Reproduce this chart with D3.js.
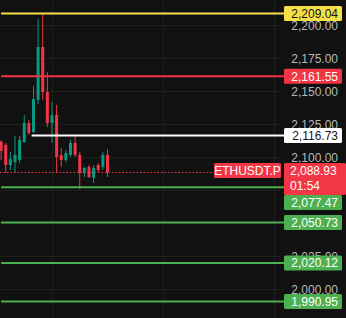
<!DOCTYPE html>
<html>
<head>
<meta charset="utf-8">
<script src="https://cdn.jsdelivr.net/npm/d3@7"></script>
<style>
  html, body { margin: 0; padding: 0; background: #111111; }
  svg { display: block; }
</style>
</head>
<body>
<div id="chart"></div>
<script>
// 5 minute candles, first one at 11:05
const candleOpen  = [2112, 2109.5, 2094.3, 2096.6, 2098.1, 2111.7, 2126.1, 2119.3, 2143.6, 2183.7, 2149.6, 2126.1, 2132.2, 2101.9, 2098.1, 2101.9, 2111, 2101.9, 2088.3, 2092.8, 2084.5, 2094.3, 2092.8, 2101.9];
const candleHigh  = [2113, 2111, 2104.2, 2116.3, 2116.3, 2132.2, 2128.4, 2154.2, 2204.9, 2209.04, 2164.8, 2142, 2139.8, 2107.2, 2105.7, 2113.3, 2117, 2104.2, 2092.8, 2094.3, 2094.3, 2095.8, 2104.2, 2106.4];
const candleLow   = [2098, 2088.3, 2090.5, 2089, 2095.8, 2111, 2117, 2118.6, 2140.5, 2143.6, 2123.1, 2111, 2088.3, 2092.8, 2096.6, 2100.4, 2100.4, 2076, 2085.2, 2084.5, 2080.7, 2089, 2090.5, 2085.2];
const candleClose = [2105, 2094.3, 2098.9, 2101.9, 2113.3, 2126.1, 2118.6, 2144.3, 2183.7, 2149.6, 2126.1, 2132.2, 2100.4, 2098.1, 2103.4, 2111, 2101.9, 2088.3, 2092, 2085.2, 2092, 2090.5, 2101.9, 2088.93];

const priceTicks = [2200, 2175, 2150, 2125, 2100, 2075, 2050, 2025, 2000, 1975];

// horizontal levels drawn on the chart
const levelPrices = [2209.04, 2161.55, 2116.73, 2077.47, 2050.73, 2020.12, 1990.95];
const levelColors = ["#f5e04a", "#f23645", "#ffffff", "#4caf50", "#4caf50", "#4caf50", "#4caf50"];
const levelText   = ["#131313", "#ffffff", "#131313", "#ffffff", "#ffffff", "#ffffff", "#ffffff"];
const levelStart  = [0, 0, 6.6, 0, 0, 0, 0]; // candle index where the ray begins

const symbol = "ETHUSDT.P";
const countdown = "01:54";

const width = 346, height = 318;
const axisLeft = 276;
const barMs = 5 * 60 * 1000;
const t0 = new Date(2024, 0, 1, 11, 5);
const times = candleOpen.map((d, i) => new Date(+t0 + i * barMs));

const x = d3.scaleTime()
  .domain([new Date(+t0 - 0.24 * barMs), new Date(+t0 + 74.57 * barMs)])
  .range([0, width]);
const y = d3.scaleLinear().domain([1978.4, 2219.3]).range([height, 0]);
const fmt = d3.format(",.2f");

const svg = d3.select("#chart").append("svg")
  .attr("width", width)
  .attr("height", height)
  .style("font-family", "'Liberation Sans', Arial, sans-serif")
  .style("font-size", "12px");

svg.append("rect").attr("width", width).attr("height", height).attr("fill", "#111111");

// grid
svg.append("g").selectAll("line")
  .data(x.ticks(d3.timeHour.every(2)))
  .join("line")
  .attr("x1", d => Math.round(x(d)) + 0.5).attr("x2", d => Math.round(x(d)) + 0.5)
  .attr("y1", 0).attr("y2", height)
  .attr("stroke", "#1f1f1f");

svg.append("g").selectAll("line")
  .data(priceTicks)
  .join("line")
  .attr("x1", 0).attr("x2", axisLeft + 4)
  .attr("y1", d => Math.round(y(d)) + 0.5).attr("y2", d => Math.round(y(d)) + 0.5)
  .attr("stroke", "#1f1f1f");

// price axis tick labels
svg.append("g").selectAll("text")
  .data(priceTicks)
  .join("text")
  .attr("x", 338)
  .attr("y", d => y(d))
  .attr("dy", "0.35em")
  .attr("text-anchor", "end")
  .attr("fill", "#b8b8b8")
  .text(d => fmt(d));

// candles
const candles = svg.append("g").selectAll("g")
  .data(times)
  .join("g")
  .attr("fill", (d, i) => candleClose[i] >= candleOpen[i] ? "#089981" : "#f23645")
  .attr("stroke", (d, i) => candleClose[i] >= candleOpen[i] ? "#089981" : "#f23645");

candles.append("line")
  .attr("x1", d => x(d)).attr("x2", d => x(d))
  .attr("y1", (d, i) => y(candleHigh[i]))
  .attr("y2", (d, i) => y(candleLow[i]))
  .attr("stroke-width", 1);

candles.append("rect")
  .attr("x", d => x(d) - 1.5)
  .attr("width", 3)
  .attr("y", (d, i) => y(Math.max(candleOpen[i], candleClose[i])))
  .attr("height", (d, i) => Math.max(1, Math.abs(y(candleOpen[i]) - y(candleClose[i]))))
  .attr("stroke", "none");

// level lines
svg.append("g").selectAll("line")
  .data(levelPrices)
  .join("line")
  .attr("x1", (d, i) => x(new Date(+t0 + levelStart[i] * barMs)))
  .attr("x2", 284)
  .attr("y1", d => y(d)).attr("y2", d => y(d))
  .attr("stroke", (d, i) => levelColors[i])
  .attr("stroke-width", 2);

// current price line
const last = candleClose[candleClose.length - 1];
const lastY = y(last);
svg.append("line")
  .attr("x1", 0).attr("x2", 214)
  .attr("y1", Math.round(lastY) + 0.5).attr("y2", Math.round(lastY) + 0.5)
  .attr("stroke", "#f23645")
  .attr("stroke-dasharray", "1.5,2");

// level labels, pushed off the current price box when they collide
const curTop = lastY - 9, curBottom = lastY + 23;
const labelH = 15;
const labels = levelPrices.map((p, i) => {
  let top = y(p) - labelH / 2;
  if (top < curBottom && top + labelH > curTop) top = curBottom;
  return { p, i, top };
});

const lab = svg.append("g").selectAll("g")
  .data(labels)
  .join("g");
lab.append("rect")
  .attr("x", 284).attr("width", 58)
  .attr("y", d => d.top).attr("height", labelH)
  .attr("rx", 1.5)
  .attr("fill", d => levelColors[d.i]);
lab.append("text")
  .attr("x", 338)
  .attr("y", d => d.top + labelH / 2)
  .attr("dy", "0.36em")
  .attr("text-anchor", "end")
  .attr("fill", d => levelText[d.i])
  .text(d => fmt(d.p));

// symbol tag and current price box
svg.append("rect")
  .attr("x", 214).attr("width", 67)
  .attr("y", curTop).attr("height", labelH)
  .attr("rx", 1.5)
  .attr("fill", "#f23645");
svg.append("text")
  .attr("x", 247.5)
  .attr("y", curTop + labelH / 2)
  .attr("dy", "0.36em")
  .attr("text-anchor", "middle")
  .attr("fill", "#ffffff")
  .text(symbol);

svg.append("rect")
  .attr("x", 284).attr("width", 62)
  .attr("y", curTop).attr("height", curBottom - curTop)
  .attr("rx", 1.5)
  .attr("fill", "#f23645");
svg.append("text")
  .attr("x", 290)
  .attr("y", curTop + 8)
  .attr("dy", "0.36em")
  .attr("fill", "#ffffff")
  .text(fmt(last));
svg.append("text")
  .attr("x", 290)
  .attr("y", curTop + 23)
  .attr("dy", "0.36em")
  .attr("fill", "#ffffff")
  .text(countdown);
</script>
</body>
</html>
